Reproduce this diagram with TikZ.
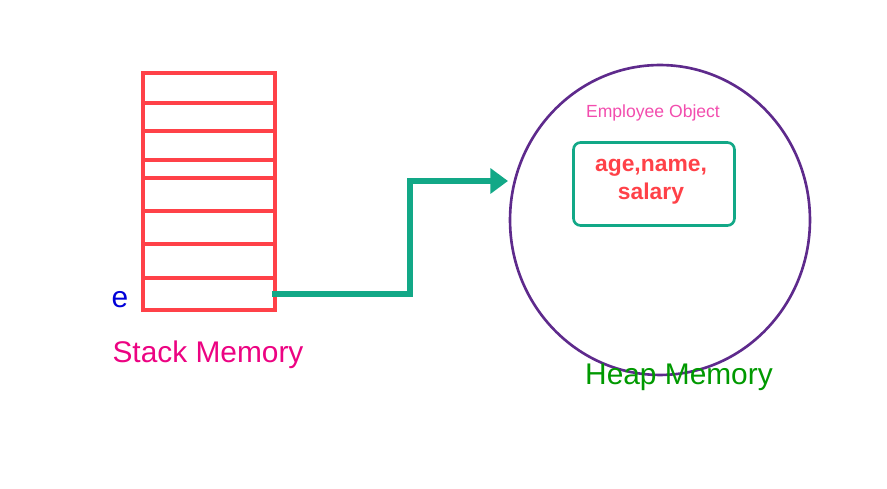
\documentclass[tikz,border=0pt]{standalone}
\usepackage{fontspec}
\setmainfont{Liberation Sans}
\usetikzlibrary{arrows.meta,shapes.geometric}
\definecolor{slotred}{HTML}{FF4148}
\definecolor{linkgreen}{HTML}{12A887}
\definecolor{heappurple}{HTML}{5E2A8C}
\tikzset{slot/.style={draw=slotred, line width=2.2pt, minimum width=2.64cm, inner sep=0pt, outer sep=0pt},
         caption/.style={font=\fontsize{17}{20}\selectfont}}
\begin{document}
\begin{tikzpicture}[x=0.02cm,y=-0.02cm]
  \useasboundingbox (0,0) rectangle (887,489);
  % stack of slots
  \foreach \top/\bot [count=\i] in {73/103,103/131,131/160,160/178,178/211,211/244,244/278,278/310}
    \node[slot, minimum height={(\bot-\top)*0.02cm}, anchor=north west] (s\i) at (143,\top) {};
  \node[circle, fill=white, inner sep=1pt, font=\fontsize{17}{20}\selectfont, text=blue!85!black] (e) at (120,300) {e};
  \node[caption, text=magenta!90!red] (stack) at (208,355) {Stack Memory};

  % heap
  \node[ellipse, draw=heappurple, line width=1.5pt, minimum width=6cm, minimum height=6.2cm, inner sep=0pt] (heap) at (660,220) {};
  \node[font=\fontsize{10}{12}\selectfont, text=magenta!70] (label) at (653,113) {Employee Object};
  \node[draw=linkgreen, line width=1.5pt, rounded corners=4pt, minimum width=3.22cm, minimum height=1.66cm] (obj) at (654,184) {};
  \node[font=\bfseries\fontsize{13}{16}\selectfont, text=slotred, align=center] (fields) at (651,182) {age,name,\\salary};
  \node[caption, text=green!60!black] (heapname) at (679,377) {Heap Memory};

  % reference
  \coordinate (start) at (272,294);
  \coordinate (bend1) at (410,294);
  \coordinate (bend2) at (410,181);
  \coordinate (tip) at (508,181);
  \draw[linkgreen, line width=3.5pt, -{Triangle[length=10pt,width=14pt]}] (start) -- (bend1) -- (bend2) -- (tip);
\end{tikzpicture}
\end{document}
